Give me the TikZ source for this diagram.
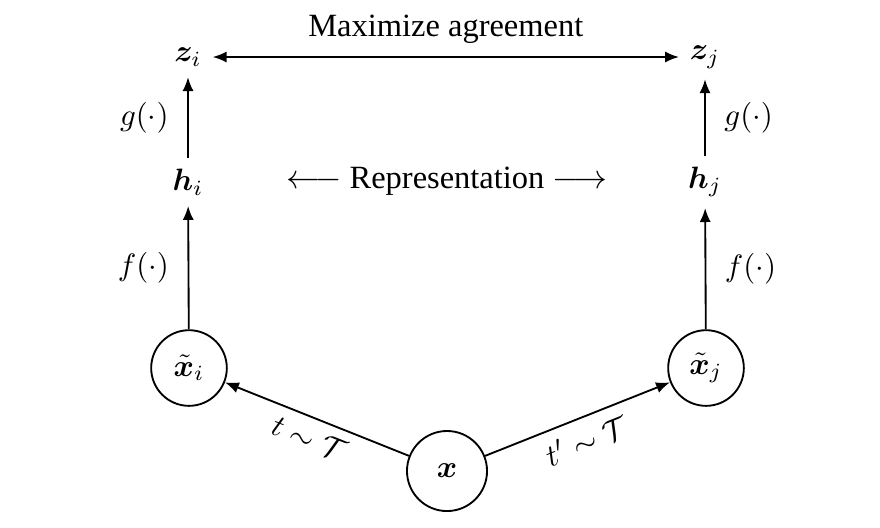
\documentclass[tikz,border=0pt]{standalone}
\usepackage{amsmath,bm}
\usepackage[no-math]{fontspec}
\newfontfamily\timesfont{Liberation Serif}
\usetikzlibrary{arrows.meta}
\begin{document}
\begin{tikzpicture}[x=0.011364cm,y=-0.011364cm,
  circ/.style={draw,circle,line width=0.6pt,minimum size=0.86cm,inner sep=0pt},
  bigcirc/.style={draw,circle,line width=0.6pt,minimum size=0.91cm,inner sep=0pt},
  arr/.style={-{Latex[length=4.5pt,width=3.6pt]},line width=0.6pt},
  lbl/.style={inner sep=2pt},
  txt/.style={font=\timesfont\fontsize{10.5}{12.5}\selectfont}]
\useasboundingbox (0,0) rectangle (880,527);
\node[bigcirc] (x) at (447,471) {$\bm{x}$};
\node[circ] (xi) at (189,368) {$\tilde{\bm{x}}_i$};
\node[circ] (xj) at (706,368) {$\tilde{\bm{x}}_j$};
\node (hi) at (188,182) {$\bm{h}_i$};
\node (hj) at (705,182) {$\bm{h}_j$};
\node (zi) at (188,57) {$\bm{z}_i$};
\node (zj) at (705,57) {$\bm{z}_j$};
\node[txt] (rep) at (447,181) {$\longleftarrow$ Representation $\longrightarrow$};
\draw[arr] (x) -- node[sloped,below,lbl,yshift=-1pt] {$t \sim \mathcal{T}$} (xi);
\draw[arr] (x) -- node[sloped,below,lbl,yshift=-1.5pt] {$t' \sim \mathcal{T}$} (xj);
\draw[arr] (xi) -- node[left,lbl,xshift=-4pt] {$f(\cdot)$} (hi);
\draw[arr] (xj) -- node[right,lbl,xshift=4pt] {$f(\cdot)$} (hj);
\draw[arr] (hi) -- node[left,lbl,xshift=-4pt] {$g(\cdot)$} (zi);
\draw[arr] (hj) -- node[right,lbl,xshift=4pt] {$g(\cdot)$} (zj);
\draw[arr,{Latex[length=4.5pt,width=3.6pt]}-{Latex[length=4.5pt,width=3.6pt]}] (zi) -- node[above,lbl,yshift=2pt,txt] {Maximize agreement} (zj);
\end{tikzpicture}
\end{document}
